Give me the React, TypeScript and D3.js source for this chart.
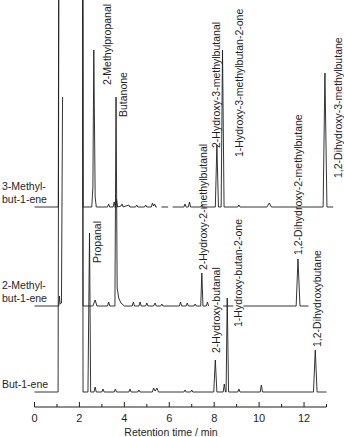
import React from "react";
import * as d3 from "d3";

type Pt = [number, number] | null;

// Trace names (left labels, two lines each)
const TRACE_NAMES: string[][] = [["3-Methyl-", "but-1-ene"], ["2-Methyl-", "but-1-ene"], ["But-1-ene"]];
// vertical offsets of the traces (signal units)
const TRACE_OFFSETS = [185, 86, 0];

// [time (min), signal]; null = break in the trace
const TOP_TRACE: Pt[] = [
  [0, 0], [1.06, 0], [1.1, 600], [2.14, 600], [2.16, 0], [2.55, 0], [2.6, 20], [2.64, 157], [2.7, 10], [2.75, 0],
  [3.25, 0], [3.3, 3], [3.35, 0], [3.5, 0], [3.55, 5], [3.6, -1], [3.65, 8], [3.7, 0], [3.85, 1], [3.9, 3], [3.95, 0],
  [4.2, 2], [4.25, 0], [4.5, 0], [4.55, 2], [4.6, 0], [4.9, 0], [4.95, 2], [5.0, 0], [5.2, 0], [5.25, 4], [5.3, 1],
  [5.35, 3], [5.4, 0], [5.45, 0], null, [5.65, 0], [5.95, 0], null, [6.15, 0], [6.65, 0], [6.7, 3], [6.75, 0],
  [6.85, 0], [6.9, 5], [6.95, 0], [7.4, 0], [7.45, 2], [7.5, 0], [8.05, 0], [8.12, 62], [8.19, 0], [8.31, 0],
  [8.37, 157], [8.44, 0], [9.05, 0], [9.1, 2], [9.15, 0], [10.35, 0], [10.45, 4], [10.55, 0], [12.85, 0],
  [12.93, 134], [13.02, 0], [13.3, 0],
];

const MIDDLE_TRACE: Pt[] = [
  [0, 0], [1.08, 0], [1.11, 10], [1.14, 2], [1.2, 3], [1.25, 209], null, [2.14, 600], [2.16, 0], [2.6, 0],
  [2.7, 6], [2.78, 0], [3.25, 0], [3.3, 4], [3.35, 0], [3.58, 0], [3.63, 209], [3.68, 18], [3.75, 8], [3.85, 3],
  [4.0, 0], [4.35, 0], [4.4, 4], [4.45, 0], [4.65, 0], [4.7, 4], [4.75, 0], [4.95, 0], [5.0, 3], [5.05, 0],
  [5.3, 0], [5.37, 3], [5.42, 0], [5.62, 0], [5.67, 2], [5.72, 0], [6.45, 0], [6.5, 4], [6.55, 0], [6.75, 0],
  [6.8, 3], [6.85, 0], [7.1, 0], [7.15, 2], [7.2, 0], [7.4, 0], [7.45, 33], [7.5, 0], [7.65, 0], [7.7, 4],
  [7.75, 0], null, [8.4, 0], [8.85, 0], null, [9.3, 0], [11.65, 0], [11.73, 47], [11.82, 0], [12.2, 0],
];

const BOTTOM_TRACE: Pt[] = [
  [0, 0], [1.05, 0], [1.1, 600], [2.14, 600], [2.16, 0], [2.38, 0], [2.45, 159], [2.5, 0], [2.65, 0], [2.7, 5],
  [2.75, 0], [3.0, 0], [3.05, 3], [3.1, 0], [3.55, 0], [3.6, 3], [3.65, 0], [4.2, 0], [4.25, 3], [4.3, 0],
  [4.6, 0], [4.65, 2], [4.7, 0], [5.25, 0], [5.3, 4], [5.37, 1], [5.45, 4], [5.52, 0], [6.65, 0], [6.7, 2],
  [6.75, 0], [6.95, 0], [7.0, 2], [7.05, 0], [7.98, 0], [8.05, 32], [8.12, 0], [8.4, 0], [8.45, 8], [8.5, 0],
  [8.53, 0], [8.58, 94], [8.64, 0], [9.05, 0], [9.1, 3], [9.15, 0], [10.05, 0], [10.1, 7], [10.15, 0],
  [12.42, 0], [12.5, 42], [12.58, 0], [13.0, 0],
];

const TRACES = [TOP_TRACE, MIDDLE_TRACE, BOTTOM_TRACE];

// Peak label texts
const PEAK_LABELS = [
  "2-Methylpropanal",
  "Butanone",
  "Propanal",
  "2-Hydroxy-2-methylbutanal",
  "2-Hydroxy-3-methylbutanal",
  "1-Hydroxy-3-methylbutan-2-one",
  "1,2-Dihydroxy-2-methylbutane",
  "1,2-Dihydroxy-3-methylbutane",
  "2-Hydroxy-butanal",
  "1-Hydroxy-butan-2-one",
  "1,2-Dihydroxybutane",
];
// label anchor: [time, signal at text bottom]
const PEAK_LABEL_ANCHORS: [number, number][] = [
  [3.23, 307],
  [3.94, 275],
  [2.78, 129],
  [7.5, 122],
  [8.1, 244],
  [9.1, 235],
  [11.73, 137],
  [13.53, 214],
  [8.08, 39],
  [9.06, 65],
  [12.58, 45],
];

const X_MAJOR = [0, 2, 4, 6, 8, 10, 12];
const X_MINOR = [1, 3, 5, 7, 9, 11, 13];
const X_TITLE = "Retention time / min";

const W = 344;
const H = 437;
const FONT = "'Liberation Sans', Arial, Helvetica, sans-serif";
const INK = "#1e1e1e";

export default function App() {
  const x = d3.scaleLinear().domain([0, 13]).range([34.5, 326.5]);
  const y = d3.scaleLinear().domain([0, 392]).range([392, 0]);
  const axisY = 407;

  const makeLine = (off: number) =>
    d3
      .line<Pt>()
      .defined((d) => d !== null)
      .x((d) => x((d as [number, number])[0]))
      .y((d) => y((d as [number, number])[1] + off));

  return (
    <svg
      width={W}
      height={H}
      style={{ position: "absolute", left: 0, top: 0, background: "#fff" }}
      fontFamily={FONT}
    >
      {TRACES.map((tr, i) => (
        <path
          key={i}
          d={makeLine(TRACE_OFFSETS[i])(tr) || ""}
          fill="none"
          stroke={INK}
          strokeWidth={0.9}
          strokeLinejoin="round"
        />
      ))}
      {/* left trace names */}
      {TRACE_NAMES.map((lines, i) => {
        const base = y(TRACE_OFFSETS[i]);
        return lines.map((ln, j) => (
          <text
            key={i + "-" + j}
            x={2}
            y={base - 4 - (lines.length - 1 - j) * 13.5}
            fontSize={10.5}
            fill={INK}
          >
            {ln}
          </text>
        ));
      })}
      {/* peak labels */}
      {PEAK_LABELS.map((lab, i) => {
        const [t, v] = PEAK_LABEL_ANCHORS[i];
        const px = x(t);
        const py = y(v);
        return (
          <text
            key={lab}
            transform={`translate(${px},${py}) rotate(-90)`}
            dy="0.35em"
            fontSize={10.5}
            fill={INK}
          >
            {lab}
          </text>
        );
      })}
      {/* axis */}
      <line x1={x(0)} x2={x(13)} y1={axisY} y2={axisY} stroke={INK} strokeWidth={1} />
      {X_MAJOR.map((t) => (
        <g key={"M" + t}>
          <line x1={x(t)} x2={x(t)} y1={axisY} y2={axisY - 5} stroke={INK} strokeWidth={1} />
          <text x={x(t)} y={axisY + 15} textAnchor="middle" fontSize={11} fill={INK}>
            {t}
          </text>
        </g>
      ))}
      {X_MINOR.map((t) => (
        <line key={"m" + t} x1={x(t)} x2={x(t)} y1={axisY} y2={axisY - 3} stroke={INK} strokeWidth={1} />
      ))}
      <text x={171} y={436} textAnchor="middle" fontSize={10.5} fill={INK}>
        {X_TITLE}
      </text>
    </svg>
  );
}
